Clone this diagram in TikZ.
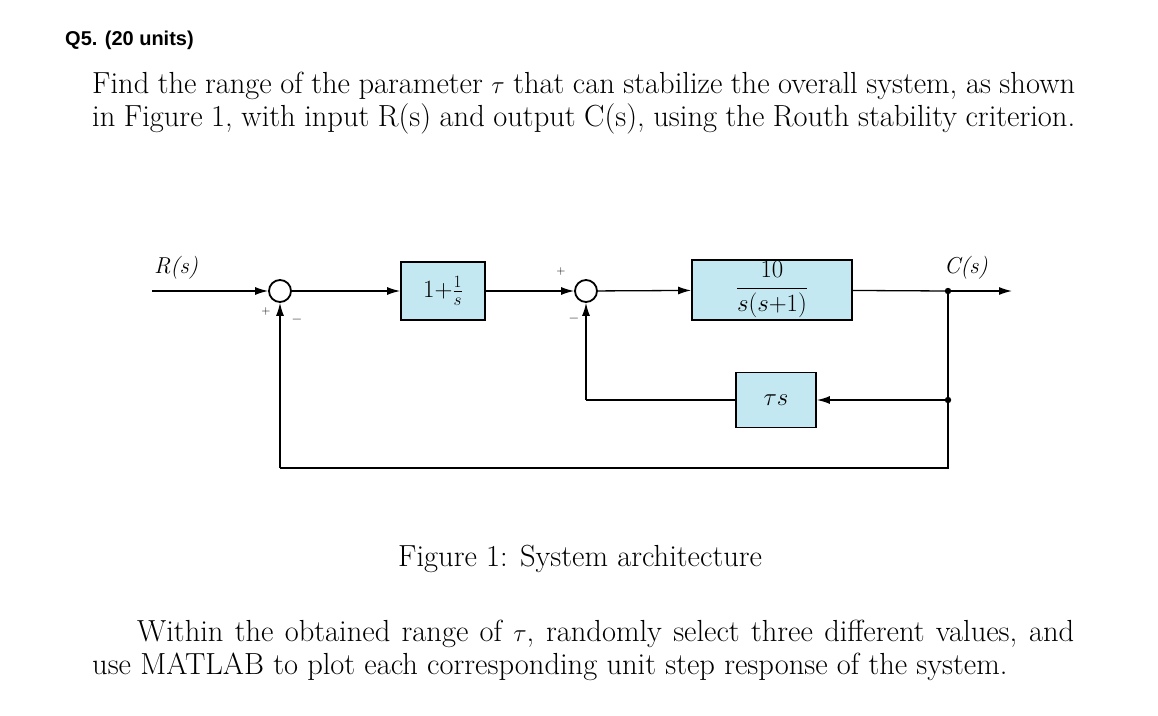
\documentclass[tikz,border=0pt]{standalone}
\usepackage{fontspec}
\usetikzlibrary{arrows.meta}
\definecolor{boxc}{RGB}{196,232,242}
\begin{document}
\begin{tikzpicture}[x=1pt,y=-1pt,
  txt/.style={inner sep=0,anchor=base west,font=\fontsize{30.5}{34}\selectfont},
  blk/.style={draw,line width=1.8pt,fill=boxc,inner sep=0},
  sumc/.style={draw,line width=1.8pt,circle,minimum size=22pt,inner sep=0},
  sig/.style={line width=1.3pt,-{Latex[length=13pt,width=8pt]}},
  wire/.style={line width=1.3pt},
  lbl/.style={font=\fontsize{23}{25}\selectfont\itshape,inner sep=0},
  mth/.style={font=\fontsize{27}{30}\selectfont}]
\useasboundingbox (0,0) rectangle (1158,715);
\node[inner sep=0,anchor=base west,font=\fontsize{20}{24}\selectfont\bfseries\fontspec{Liberation Sans}] (q) at (65,45) {Q5. (20 units)};
\node[txt] (l1) at (92,93) {\makebox[983pt][s]{Find the range of the parameter $\tau$ that can stabilize the overall system, as shown}};
\node[txt] (l2) at (92,126) {\makebox[983pt][s]{in Figure 1, with input R(s) and output C(s), using the Routh stability criterion.}};
\node[txt] (cap) at (398,566) {Figure 1: System architecture};
\node[txt] (l3) at (137,641) {\makebox[937pt][s]{Within the obtained range of $\tau$, randomly select three different values, and}};
\node[txt] (l4) at (92,674) {use MATLAB to plot each corresponding unit step response of the system.};
% diagram
\coordinate (in) at (152,291);
\node[sumc] (s1) at (280,291) {};
\node[blk,minimum width=84pt,minimum height=58pt,mth] (g1) at (443,291) {$1{+}\frac{1}{s}$};
\node[sumc] (s2) at (586,291) {};
\node[blk,minimum width=160pt,minimum height=60pt,mth] (g2) at (772,290) {$\displaystyle\frac{10}{s(s{+}1)}$};
\node[blk,minimum width=80pt,minimum height=55pt,mth] (h) at (776,400) {$\tau s$};
\coordinate (br) at (948,291);
\coordinate (br2) at (948,400);
\coordinate (out) at (1012,291);
\coordinate (b1) at (948,468);
\coordinate (b2) at (280,468);
\coordinate (f2) at (586,400);
\draw[sig] (in) -- (s1);
\draw[sig] (s1) -- (g1);
\draw[sig] (g1) -- (s2);
\draw[sig] (s2) -- (g2);
\draw[wire] (g2) -- (br);
\draw[sig] (br) -- (out);
\draw[wire] (br) -- (b1) -- (b2);
\draw[sig] (b2) -- (s1);
\draw[sig] (br2) -- (h);
\draw[wire] (h) -- (f2);
\draw[sig] (f2) -- (s2);
\fill (br) circle (3.2pt) (br2) circle (3.2pt);
\node[lbl] (rl) at (176,268) {R(s)};
\node[lbl] (cl) at (966,268) {C(s)};
\node[inner sep=0,font=\large] (p1) at (266,311) {+};
\node[inner sep=0,font=\Large] (m1) at (297,321) {\textbf{--}};
\node[inner sep=0,font=\large] (p2) at (561,272) {+};
\node[inner sep=0,font=\Large] (m2) at (574,320) {\textbf{--}};
\end{tikzpicture}
\end{document}
